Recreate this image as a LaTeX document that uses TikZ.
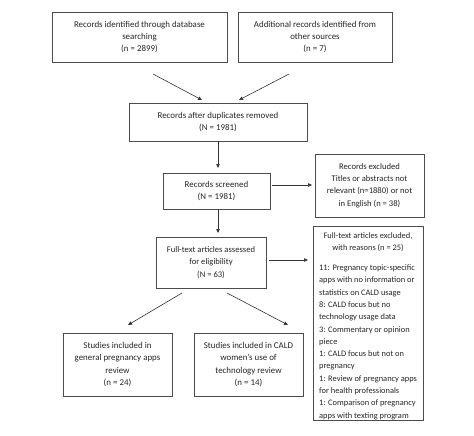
\documentclass[tikz,border=0pt]{standalone}
\usepackage{fontspec}
\setmainfont{Carlito}
\usetikzlibrary{arrows.meta}
\begin{document}
\begin{tikzpicture}[x=1pt,y=-1pt,
 box/.style={draw=black!70, line width=0.7pt, align=center, font=\fontsize{8.9}{12.3}\selectfont, text=black!85, inner sep=0pt},
 smalltxt/.style={font=\fontsize{8.4}{12.3}\selectfont, text=black!85, inner sep=0pt},
 arr/.style={draw=black!80, line width=0.6pt, -{Triangle[length=4pt,width=3.5pt]}}]
\useasboundingbox[fill=white] (0,0) rectangle (474,436);
\node[box, minimum width=175, minimum height=50] (b1) at (139.5,37) {Records identified through database\\ searching\\ (n = 2899)};
\node[box, minimum width=154, minimum height=50] (b2) at (315,37) {Additional records identified from\\ other sources\\ (n = 7)};
\node[box, minimum width=178, minimum height=38] (b3) at (218,122) {Records after duplicates removed\\ (N = 1981)};
\node[box, minimum width=107, minimum height=36] (b4) at (216.5,191) {Records screened\\ (N = 1981)};
\node[box, minimum width=109, minimum height=63, font=\fontsize{8.6}{12.3}\selectfont] (b5) at (369.5,185.5) {Records excluded\\ Titles or abstracts not\\ relevant (n=1880) or not\\ in English (n = 38)};
\node[box, minimum width=110, minimum height=51, font=\fontsize{8.6}{12.3}\selectfont] (b6) at (211,262.5) {Full-text articles assessed\\ for eligibility\\ (N = 63)};
\node[box, minimum width=110, minimum height=194] (b7) at (368,323) {};
\node[smalltxt, align=center, anchor=north] (b7h) at (368,232) {Full-text articles excluded,\\ with reasons (n = 25)};
\node[smalltxt, align=left, anchor=north west] (b7t) at (319,264.5) {11: Pregnancy topic-specific\\ apps with no information or\\ statistics on CALD usage\\ 8: CALD focus but no\\ technology usage data\\ 3: Commentary or opinion\\ piece\\ 1: CALD focus but not on\\ pregnancy\\ 1: Review of pregnancy apps\\ for health professionals\\ 1: Comparison of pregnancy\\ apps with texting program};
\node[box, minimum width=109, minimum height=63] (b8) at (117.5,364.5) {Studies included in\\ general pregnancy apps\\ review\\ (n = 24)};
\node[box, minimum width=109, minimum height=63] (b9) at (248.5,364.5) {Studies included in CALD\\ women's use of\\ technology review\\ (n = 14)};
\coordinate (a1s) at (153,74); \coordinate (a1e) at (202,100);
\coordinate (a2s) at (289,74); \coordinate (a2e) at (239,100);
\coordinate (a3s) at (218,141); \coordinate (a3e) at (218,168);
\coordinate (a4s) at (272,185); \coordinate (a4e) at (312,185);
\coordinate (a5s) at (218,209); \coordinate (a5e) at (218,233);
\coordinate (a6s) at (269,260); \coordinate (a6e) at (308,260);
\coordinate (a7s) at (182,293); \coordinate (a7e) at (128,325);
\coordinate (a8s) at (227,293); \coordinate (a8e) at (288,325);
\draw[arr] (a1s) -- (a1e);
\draw[arr] (a2s) -- (a2e);
\draw[arr] (a3s) -- (a3e);
\draw[arr] (a4s) -- (a4e);
\draw[arr] (a5s) -- (a5e);
\draw[arr] (a6s) -- (a6e);
\draw[arr] (a7s) -- (a7e);
\draw[arr] (a8s) -- (a8e);
\end{tikzpicture}
\end{document}
